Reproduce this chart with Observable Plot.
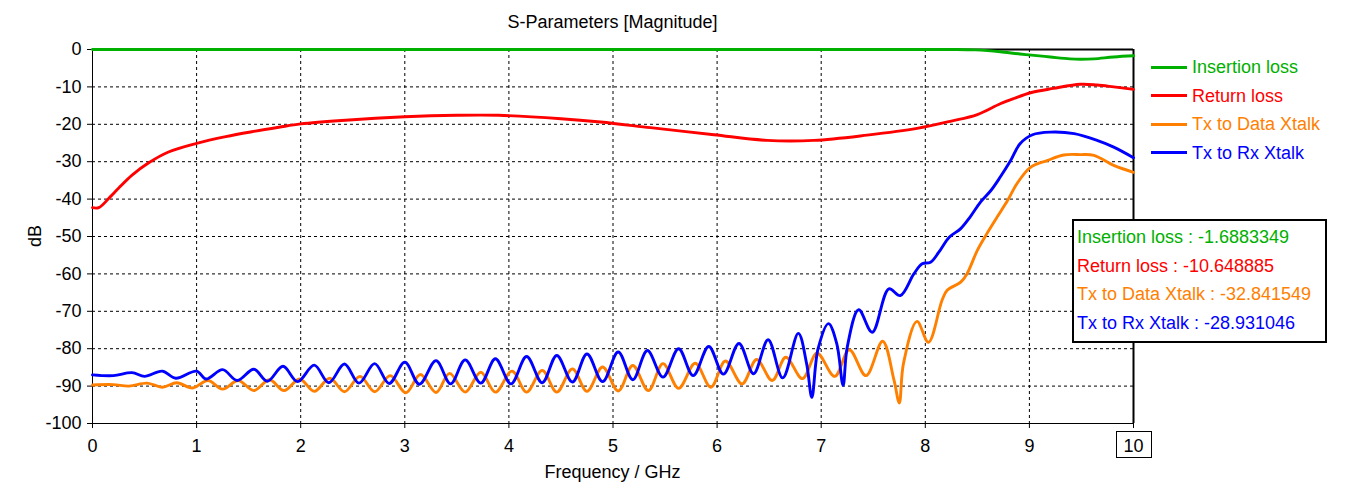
<!DOCTYPE html>
<html>
<head>
<meta charset="utf-8">
<script src="https://cdn.jsdelivr.net/npm/d3@7"></script>
<script src="https://cdn.jsdelivr.net/npm/@observablehq/plot@0.6"></script>
<style>
  html, body { margin: 0; padding: 0; background: #fff; }
  body { font-family: "Liberation Sans", Arial, sans-serif; font-size: 18px; color: #000; }
  #wrap { position: relative; width: 1358px; height: 489px; overflow: hidden; }
  #chart svg { display: block; }
  .abs { position: absolute; white-space: nowrap; line-height: 20px; }
  #title { left: 0; width: 1225px; text-align: center; top: 12px; }
  #xlabel { left: 92px; width: 1041px; text-align: center; top: 462px; }
  #ylabel { left: 35px; top: 236px; transform: translate(-50%, -50%) rotate(-90deg); }
  .legline { position: absolute; width: 36px; height: 3px; }
  #readout { position: absolute; left: 1072px; top: 219px; width: 251px; height: 120px; border: 2px solid #000; background: #fff; }
  #lastTick { position: absolute; left: 1116px; top: 431px; width: 34px; height: 25px; border: 1px solid #000; }
</style>
</head>
<body>
<div id="wrap">
  <div id="chart"></div>
  <div id="title" class="abs"></div>
  <div id="xlabel" class="abs"></div>
  <div id="ylabel" class="abs"></div>
  <div id="legend"></div>
  <div id="readout"></div>
  <div id="lastTick"></div>
</div>
<script>
// ---------- text ----------
const titleText = "S-Parameters [Magnitude]";
const xLabelText = "Frequency / GHz";
const yLabelText = "dB";

// ---------- axes ----------
const xTicks = [0, 1, 2, 3, 4, 5, 6, 7, 8, 9, 10];
const yTicks = [0, -10, -20, -30, -40, -50, -60, -70, -80, -90, -100];
const xGrid = [1, 2, 3, 4, 5, 6, 7, 8, 9];
const yGrid = [-10, -20, -30, -40, -50, -60, -70, -80, -90];

// ---------- series ----------
const seriesNames = ["Insertion loss", "Return loss", "Tx to Data Xtalk", "Tx to Rx Xtalk"];
const seriesColors = ["#00b000", "#ff0000", "#ff8000", "#0000ff"];
const readoutValues = ["-1.6883349", "-10.648885", "-32.841549", "-28.931046"];

// Insertion loss
const insFreq = [0, 1, 2, 3, 4, 5, 6, 7, 8, 8.3, 8.48, 8.6, 8.72, 8.91, 9.02, 9.2, 9.39, 9.49, 9.62, 9.81, 10];
const insDb   = [0, 0, 0, 0, 0, 0, 0, 0, 0, 0, -0.1, -0.3, -0.6, -1.2, -1.5, -2.0, -2.5, -2.6, -2.5, -2.0, -1.69];

// Return loss
const retFreq = [0, 0.06, 0.17, 0.25, 0.38, 0.54, 0.73, 1.0, 1.28, 1.53, 1.79, 2.0, 2.43, 3.0, 3.5, 3.9, 4.5, 4.88, 5.36, 5.97, 6.48, 6.93, 7.44, 7.92, 8.24, 8.5, 8.72, 8.85, 9.02, 9.23, 9.49, 9.65, 9.81, 10];
const retDb   = [-42.3, -42.3, -39.4, -37.1, -33.6, -30.3, -27.4, -25.1, -23.3, -22.0, -20.8, -19.9, -18.9, -18.0, -17.6, -17.6, -18.5, -19.4, -20.9, -22.8, -24.3, -24.3, -22.9, -21.1, -19.2, -17.4, -14.5, -13.1, -11.5, -10.4, -9.3, -9.5, -10.0, -10.65];

// Tx to Data Xtalk
const dataFreq = [0, 0.2, 0.35, 0.525, 0.67, 0.81, 0.96, 1.11, 1.25, 1.40, 1.55, 1.70, 1.84, 1.99, 2.13, 2.28, 2.42, 2.57, 2.71, 2.86, 3.01, 3.15, 3.30, 3.43, 3.58, 3.73, 3.87, 4.03, 4.17, 4.32, 4.46, 4.61, 4.75, 4.90, 5.05, 5.19, 5.34, 5.48, 5.63, 5.79, 5.94, 6.08, 6.24, 6.38, 6.53, 6.66, 6.82, 6.96, 7.13, 7.27, 7.43, 7.59, 7.70, 7.75, 7.79, 7.92, 8.03, 8.16, 8.21, 8.34, 8.40, 8.50, 8.59, 8.69, 8.79, 8.88, 9.01, 9.17, 9.33, 9.49, 9.62, 9.81, 10];
const dataDb   = [-89.7, -89.6, -90.0, -89.2, -90.3, -89.1, -90.5, -88.5, -90.8, -88.5, -91.2, -88.3, -91.2, -88.1, -91.4, -87.9, -91.5, -87.4, -91.5, -87.2, -91.8, -86.9, -91.7, -86.6, -91.6, -86.3, -91.6, -86.0, -91.6, -85.8, -91.6, -85.4, -91.4, -84.9, -91.3, -84.5, -91.2, -84.0, -90.6, -83.9, -90.3, -83.3, -89.4, -82.9, -88.5, -82.3, -88.0, -81.2, -87.4, -80.3, -87.2, -78.0, -88.5, -94.5, -84.0, -72.7, -78.3, -67.1, -64.4, -62.2, -60.0, -53.7, -49.3, -44.8, -40.4, -35.9, -31.5, -29.7, -28.2, -28.1, -28.3, -31.0, -32.84];

// Tx to Rx Xtalk
const rxFreq = [0, 0.2, 0.38, 0.5, 0.67, 0.8, 1.0, 1.09, 1.25, 1.39, 1.55, 1.68, 1.83, 1.97, 2.13, 2.27, 2.42, 2.56, 2.71, 2.85, 3.0, 3.14, 3.3, 3.44, 3.58, 3.73, 3.87, 4.02, 4.17, 4.32, 4.46, 4.61, 4.75, 4.90, 5.05, 5.19, 5.33, 5.48, 5.63, 5.77, 5.92, 6.06, 6.21, 6.35, 6.49, 6.63, 6.78, 6.86, 6.91, 6.97, 7.07, 7.15, 7.21, 7.25, 7.36, 7.49, 7.65, 7.76, 7.89, 7.97, 8.05, 8.13, 8.23, 8.34, 8.43, 8.53, 8.63, 8.72, 8.82, 8.91, 9.03, 9.2, 9.43, 9.65, 9.81, 10];
const rxDb   = [-87.0, -87.2, -86.4, -87.4, -86.0, -87.9, -86.0, -88.1, -85.6, -88.5, -85.5, -88.7, -84.7, -88.8, -84.4, -89.1, -84.1, -89.2, -84.0, -89.3, -83.6, -89.5, -83.2, -89.4, -83.0, -89.2, -82.7, -89.4, -82.1, -89.1, -81.8, -88.9, -81.4, -88.8, -80.9, -88.3, -80.5, -87.6, -80.0, -87.2, -79.4, -86.8, -78.6, -86.7, -77.6, -87.8, -75.9, -84.0, -93.0, -80.0, -73.3, -78.7, -89.8, -79.6, -69.6, -75.6, -64.0, -65.8, -60.0, -57.3, -56.9, -54.2, -50.2, -47.9, -44.8, -40.8, -37.7, -34.1, -29.7, -25.2, -22.8, -22.1, -22.5, -24.3, -26.1, -28.93];

// ---------- build tables ----------
const toRows = (fs, vs) => fs.map((f, i) => ({ f, v: vs[i] }));
const seriesData = [
  toRows(insFreq, insDb),
  toRows(retFreq, retDb),
  toRows(dataFreq, dataDb),
  toRows(rxFreq, rxDb)
];

const fmt = d => `${d}`;

const chart = Plot.plot({
  width: 1358,
  height: 489,
  marginTop: 49,
  marginRight: 225,
  marginBottom: 66,
  marginLeft: 92,
  style: { fontFamily: '"Liberation Sans", Arial, sans-serif', fontSize: "18px", background: "white", color: "black", overflow: "visible" },
  x: { domain: [0, 10] },
  y: { domain: [-100, 0] },
  marks: [
    Plot.ruleX(xGrid, { stroke: "black", strokeWidth: 1, strokeDasharray: "3,3", strokeOpacity: 1 }),
    Plot.ruleY(yGrid, { stroke: "black", strokeWidth: 1, strokeDasharray: "3,3", strokeOpacity: 1 }),
    Plot.ruleX([0], { stroke: "black", strokeWidth: 1 }),
    Plot.ruleY([-100], { stroke: "black", strokeWidth: 1 }),
    Plot.ruleX([10], { stroke: "black", strokeWidth: 2 }),
    Plot.ruleY([0], { stroke: "black", strokeWidth: 2 }),
    Plot.axisX({ ticks: xTicks, tickSize: 5, tickPadding: 11, tickFormat: fmt, label: null, fontSize: 18 }),
    Plot.axisY({ ticks: yTicks, tickSize: 5, tickPadding: 6, tickFormat: fmt, label: null, fontSize: 18 }),
    ...seriesData.map((rows, i) =>
      Plot.line(rows, { x: "f", y: "v", stroke: seriesColors[i], strokeWidth: 2.9, curve: "catmull-rom" })
    )
  ]
});
document.getElementById("chart").appendChild(chart);

// ---------- texts ----------
document.getElementById("title").textContent = titleText;
document.getElementById("xlabel").textContent = xLabelText;
document.getElementById("ylabel").textContent = yLabelText;

// legend
const legend = document.getElementById("legend");
const legendRowY = [67, 95.5, 124, 152.5];
seriesNames.forEach((name, i) => {
  const ln = document.createElement("div");
  ln.className = "legline";
  ln.style.left = "1151px";
  ln.style.top = (legendRowY[i] - 1.5) + "px";
  ln.style.background = seriesColors[i];
  legend.appendChild(ln);
  const tx = document.createElement("div");
  tx.className = "abs";
  tx.style.left = "1192px";
  tx.style.top = (legendRowY[i] - 10) + "px";
  tx.style.color = seriesColors[i];
  tx.textContent = name;
  legend.appendChild(tx);
});

// readout box
const readout = document.getElementById("readout");
const readoutRowY = [16, 45, 73, 102];
seriesNames.forEach((name, i) => {
  const tx = document.createElement("div");
  tx.className = "abs";
  tx.style.left = "3px";
  tx.style.top = (readoutRowY[i] - 10) + "px";
  tx.style.color = seriesColors[i];
  tx.textContent = `${name} : ${readoutValues[i]}`;
  readout.appendChild(tx);
});
</script>
</body>
</html>
